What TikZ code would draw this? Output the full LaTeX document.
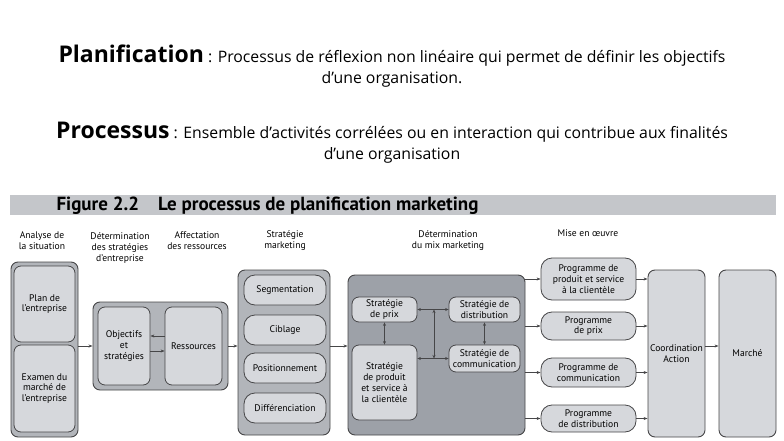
\documentclass[tikz,border=0pt]{standalone}
\usepackage{fontspec}
\setmainfont{Open Sans}
\newfontfamily\figfont{PT Sans}
\usetikzlibrary{arrows.meta}
\definecolor{barGray}{RGB}{196,198,202}
\definecolor{outerGray}{RGB}{178,181,186}
\definecolor{mixGray}{RGB}{157,161,168}
\definecolor{innerGray}{RGB}{214,216,220}
\definecolor{lineGray}{RGB}{70,70,72}
\tikzset{
  outerbox/.style={draw=lineGray,line width=0.9pt,fill=outerGray,rounded corners=7pt,inner sep=0pt},
  innerbox/.style={draw=lineGray,line width=0.8pt,fill=innerGray,rounded corners=7pt,inner sep=0.5pt,align=center,font=\figfont\fontsize{9.6}{10.8}\selectfont},
  pill/.style={innerbox,rounded corners=11pt},
  head/.style={align=center,font=\figfont\fontsize{9.6}{11}\selectfont},
  flow/.style={-{Stealth[length=4pt,width=3pt]},line width=0.6pt,lineGray},
  both/.style={{Stealth[length=3.5pt,width=3pt]}-{Stealth[length=3.5pt,width=3pt]},line width=0.6pt,lineGray}
}
\begin{document}
\begin{tikzpicture}[x=1pt,y=-1pt]
\useasboundingbox (0,0) rectangle (784,441);
%definitions
\node[font=\fontsize{15.8}{19}\selectfont,align=center] (defplan) at (392,66)
  {{\fontsize{23}{26}\selectfont\bfseries Planification} : Processus de réflexion non linéaire qui permet de définir les objectifs\\[2pt] d’une organisation.};
\node[font=\fontsize{15.8}{19}\selectfont,align=center] (defproc) at (392,143)
  {{\fontsize{23}{26}\selectfont\bfseries Processus} : Ensemble d’activités corrélées ou en interaction qui contribue aux finalités\\[2pt] d’une organisation};
%title bar
\fill[barGray] (10,195) rectangle (776,215);
\node[anchor=west,font=\figfont\fontsize{19}{21}\selectfont\bfseries] (figtitle) at (53,206) {Figure 2.2\quad Le processus de planification marketing};
%column heads
\node[head] (hAnalyse) at (42,241) {Analyse de\\la situation};
\node[head] (hDeterm) at (120,248) {Détermination\\des stratégies\\d’entreprise};
\node[head] (hAffect) at (197,241) {Affectation\\des ressources};
\node[head] (hStrat) at (285,241) {Stratégie\\marketing};
\node[head] (hMix) at (448,241) {Détermination\\du mix marketing};
\node[head] (hMise) at (588,233) {Mise en œuvre};
%analyse
\node[outerbox,minimum width=67,minimum height=175] (analyse) at (44.5,349.5) {};
\node[innerbox,minimum width=61,minimum height=76] (plan) at (44.5,304) {Plan de\\l’entreprise};
\node[innerbox,minimum width=61,minimum height=87] (examen) at (44.5,388.5) {Examen du\\marché de\\l’entreprise};
%strategies
\node[outerbox,minimum width=135,minimum height=88] (strat) at (160.5,346) {};
\node[innerbox,minimum width=52,minimum height=78] (objectifs) at (124,346) {Objectifs\\et\\stratégies};
\node[innerbox,minimum width=57,minimum height=78] (ressources) at (193.5,346) {Ressources};
\draw[flow] ([yshift=-5]objectifs.east) -- ([yshift=-5]ressources.west);
\draw[flow] ([yshift=10]ressources.west) -- ([yshift=10]objectifs.east);
%marketing
\node[outerbox,minimum width=92,minimum height=165] (marketing) at (284,352.5) {};
\node[pill,minimum width=82,minimum height=30] (segm) at (285,290) {Segmentation};
\node[pill,minimum width=82,minimum height=30] (ciblage) at (285,330) {Ciblage};
\node[pill,minimum width=82,minimum height=30] (posit) at (285,368) {Positionnement};
\node[pill,minimum width=82,minimum height=30] (diff) at (285,408) {Différenciation};
%mix
\node[outerbox,fill=mixGray,minimum width=177,minimum height=160] (mix) at (436.5,355) {};
\node[innerbox,minimum width=65,minimum height=25] (sprix) at (384.5,309.5) {Stratégie\\de prix};
\node[innerbox,minimum width=65,minimum height=75] (sproduit) at (384.5,382.5) {Stratégie\\de produit\\et service à\\la clientèle};
\node[innerbox,minimum width=71,minimum height=25] (sdistrib) at (484.5,309.5) {Stratégie de\\distribution};
\node[innerbox,minimum width=71,minimum height=27] (scomm) at (484.5,358.5) {Stratégie de\\communication};
\draw[both] (sprix.south) -- (sproduit.north);
\draw[both] (sdistrib.south) -- (scomm.north);
\draw[both] (sprix.east) -- (sdistrib.west);
\draw[both] (sproduit.east |- scomm.west) -- (scomm.west);
\draw[both] (434,309.5) -- (434,358.5);
%programmes
\node[pill,minimum width=95,minimum height=42] (pproduit) at (588.5,279) {Programme de\\produit et service\\à la clientèle};
\node[pill,minimum width=95,minimum height=28] (pprix) at (588.5,326) {Programme\\de prix};
\node[pill,minimum width=95,minimum height=29] (pcomm) at (588.5,372.5) {Programme de\\communication};
\node[pill,minimum width=95,minimum height=27] (pdistrib) at (588.5,418.5) {Programme\\de distribution};
\node[outerbox,fill=innerGray,minimum width=57,minimum height=167,align=center,font=\figfont\fontsize{9.6}{10.8}\selectfont] (coord) at (676.5,353.5) {Coordination\\Action};
\node[outerbox,fill=innerGray,minimum width=57,minimum height=167,font=\figfont\fontsize{9.6}{10.8}\selectfont] (marche) at (747.5,353.5) {Marché};
%flow
\draw[flow] (analyse.east |- strat.west) -- (strat.west);
\draw[flow] (strat.east) -- (marketing.west |- strat.east);
\draw[flow] (marketing.east |- strat.east) -- (mix.west |- strat.east);
\foreach \p in {pproduit,pprix,pcomm,pdistrib}{
  \draw[flow] (mix.east |- \p.west) -- (\p.west);
  \draw[flow] (\p.east) -- (coord.west |- \p.east);
}
\draw[flow] (coord.east |- strat.east) -- (marche.west |- strat.east);
\end{tikzpicture}
\end{document}
